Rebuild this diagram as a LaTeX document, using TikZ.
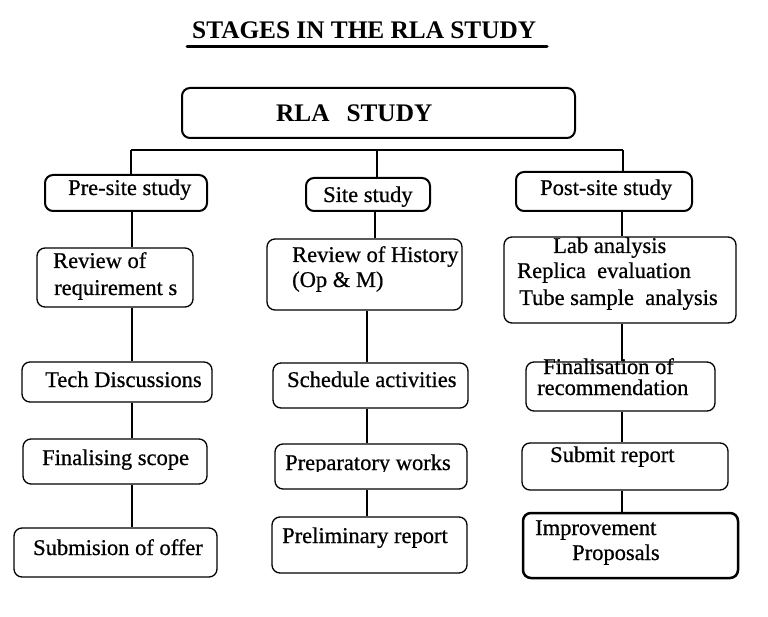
\documentclass[tikz,border=0pt]{standalone}
\usepackage{fontspec}
\setmainfont{Liberation Serif}
\newfontfamily\bodyfam{Liberation Serif}[FakeBold=0.6]
\usetikzlibrary{fit}
\newcommand\bodyfont{\bodyfam\fontsize{22.5}{26}\selectfont}
\newcommand\headfont{\fontsize{25.3}{29}\selectfont\bfseries}
\begin{document}
\begin{tikzpicture}[x=1pt,y=-1pt,
  box/.style={draw, rounded corners=8pt, line width=1.3pt, inner sep=0pt},
  hbox/.style={box, line width=2pt},
  txt/.style={inner sep=0pt, anchor=base west, font=\bodyfont},
  conn/.style={line width=2pt}]
\useasboundingbox[fill=white] (0,0) rectangle (768,617);

% title
\node[inner sep=0pt, anchor=base west, font=\headfont] (title) at (192,39) {STAGES IN THE RLA STUDY};
\coordinate (ul1) at (187,47);
\coordinate (ul2) at (547,47);
\draw[line width=3pt, line cap=round] (ul1) -- (ul2);

% top box
\node[hbox, fit={(182,88) (575,138)}] (rla) {};
\node[inner sep=0pt, anchor=base west, font=\headfont] (rlat) at (276,122) {RLA\hspace{0.67em}STUDY};

% stage boxes
\node[hbox, fit={(45,175) (207,211)}] (pre) {};
\node[hbox, fit={(306,178) (430,211)}] (site) {};
\node[hbox, fit={(516,172) (692,211)}] (post) {};
\node[txt] (pret) at (68,195) {Pre-site study};
\node[txt] (sitet) at (323,202) {Site study};
\node[txt] (postt) at (540,195) {Post-site study};

% column 1
\node[box, fit={(37,248) (193,307)}] (rev1) {};
\node[box, fit={(22,362) (212,402)}] (tech) {};
\node[box, fit={(23,439) (207,484)}] (fins) {};
\node[box, fit={(14,528) (217,577)}] (subm) {};
\node[txt] (rev1a) at (53,268) {Review of};
\node[txt] (rev1b) at (54,295) {requirement s};
\node[txt] (techt) at (45,387) {Tech Discussions};
\node[txt] (finst) at (42,465) {Finalising scope};
\node[txt] (submt) at (33,555) {Submision of offer};

% column 2
\node[box, fit={(267,239) (462,310)}] (rev2) {};
\node[box, fit={(273,363) (468,408)}] (sched) {};
\node[box, fit={(275,444) (467,489)}] (prep) {};
\node[box, fit={(272,517) (467,573)}] (prel) {};
\node[txt] (rev2a) at (292,262) {Review of History};
\node[txt] (rev2b) at (292,287) {(Op \& M)};
\node[txt] (schedt) at (287,387) {Schedule activities};
\begin{scope}
\clip (276,445) rectangle (466,471);
\node[txt] (prept) at (285,470) {Preparatory works};
\end{scope}
\node[txt] (prelt) at (282,543) {Preliminary report};

% column 3
\node[box, fit={(504,237) (736,323)}] (lab) {};
\node[box, fit={(526,362) (715,411)}] (finr) {};
\node[box, fit={(522,443) (728,490)}] (subr) {};
\node[box, fit={(523,513) (738,578)}, line width=2.5pt] (impr) {};
\node[txt] (laba) at (553,253) {Lab analysis};
\node[txt] (labb) at (517,278) {Replica\hspace{0.5em}evaluation};
\node[txt] (labc) at (519,305) {Tube sample\hspace{0.5em}analysis};
\node[txt] (finra) at (543,374) {Finalisation of};
\node[txt] (finrb) at (537,395) {recommendation};
\node[txt] (subrt) at (550,462) {Submit report};
\node[txt] (impra) at (535,535) {Improvement};
\node[txt] (imprb) at (572,560) {Proposals};

% bus
\coordinate (b1) at (131,150);
\coordinate (b2) at (377,150);
\coordinate (b3) at (623,150);
\draw[conn] (b1) -- (b3);
\draw[conn] (b1) -- (pre.north -| b1);
\draw[conn] (b2) -- (site.north -| b2);
\draw[conn] (b3) -- (post.north -| b3);

% column connectors
\coordinate (c1) at (132,0);
\coordinate (c2a) at (375,0);
\coordinate (c2b) at (367,0);
\coordinate (c3) at (622,0);
\draw[conn] (pre.south -| c1) -- (rev1.north -| c1);
\draw[conn] (rev1.south -| c1) -- (tech.north -| c1);
\draw[conn] (tech.south -| c1) -- (fins.north -| c1);
\draw[conn] (fins.south -| c1) -- (subm.north -| c1);
\draw[conn] (site.south -| c2a) -- (rev2.north -| c2a);
\draw[conn] (rev2.south -| c2b) -- (sched.north -| c2b);
\draw[conn] (sched.south -| c2b) -- (prep.north -| c2b);
\draw[conn] (prep.south -| c2b) -- (prel.north -| c2b);
\draw[conn] (post.south -| c3) -- (lab.north -| c3);
\draw[conn] (lab.south -| c3) -- (finr.north -| c3);
\draw[conn] (finr.south -| c3) -- (subr.north -| c3);
\draw[conn] (subr.south -| c3) -- (impr.north -| c3);
\end{tikzpicture}
\end{document}
